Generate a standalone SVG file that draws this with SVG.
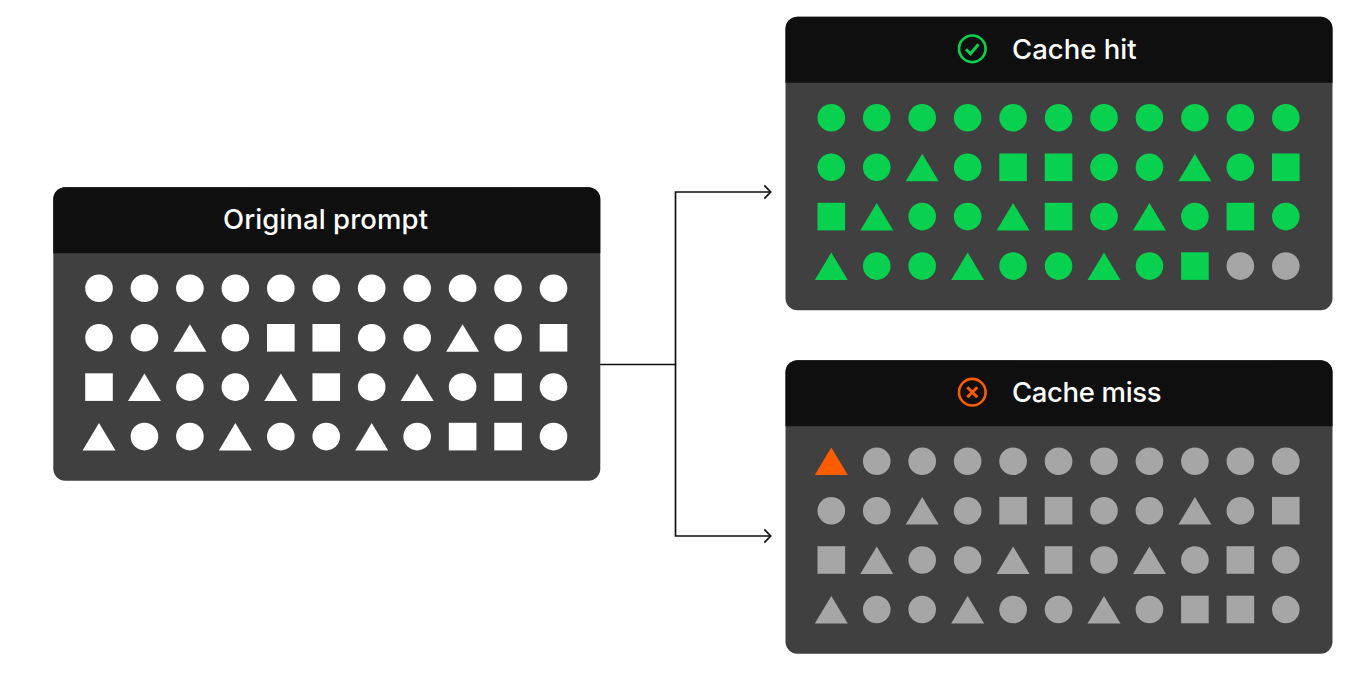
<svg xmlns="http://www.w3.org/2000/svg" width="1358" height="679" viewBox="0 0 1358 679">
<style>
.body{fill:#404040}.head{fill:#0f0f0f}
.t{font-family:"Inter","Liberation Sans",sans-serif;font-size:27.5px;font-weight:500;fill:#fff}
.w{fill:#fff}.g{fill:#07d14f}.a{fill:#a6a6a6}.o{fill:#ff5c00}
.conn{fill:none;stroke:#111;stroke-width:1.7}
</style>
<defs>
<circle id="c" r="13.800"/>
<rect id="s" x="-13.800" y="-13.800" width="27.600" height="27.600"/>
<path id="r" d="M0-13.600L16.500 13.900H-16.500Z"/>
<g id="panel">
<rect class="body" width="547" height="293.500" rx="12"/>
<path class="head" d="M0 66V12A12 12 0 0 1 12 0H535A12 12 0 0 1 547 12V66Z"/>
</g>
<g id="row1"><use href="#c" x="0"/><use href="#c" x="45.450"/><use href="#c" x="90.900"/><use href="#c" x="136.350"/><use href="#c" x="181.800"/><use href="#c" x="227.250"/><use href="#c" x="272.700"/><use href="#c" x="318.150"/><use href="#c" x="363.600"/><use href="#c" x="409.050"/><use href="#c" x="454.500"/></g>
<g id="row2"><use href="#c" x="0"/><use href="#c" x="45.450"/><use href="#r" x="90.900"/><use href="#c" x="136.350"/><use href="#s" x="181.800"/><use href="#s" x="227.250"/><use href="#c" x="272.700"/><use href="#c" x="318.150"/><use href="#r" x="363.600"/><use href="#c" x="409.050"/><use href="#s" x="454.500"/></g>
<g id="row3"><use href="#s" x="0"/><use href="#r" x="45.450"/><use href="#c" x="90.900"/><use href="#c" x="136.350"/><use href="#r" x="181.800"/><use href="#s" x="227.250"/><use href="#c" x="272.700"/><use href="#r" x="318.150"/><use href="#c" x="363.600"/><use href="#s" x="409.050"/><use href="#c" x="454.500"/></g>
<g id="row4head"><use href="#r" x="0"/><use href="#c" x="45.450"/><use href="#c" x="90.900"/><use href="#r" x="136.350"/><use href="#c" x="181.800"/><use href="#c" x="227.250"/><use href="#r" x="272.700"/><use href="#c" x="318.150"/><use href="#s" x="363.600"/></g>
<marker id="arrow" markerUnits="userSpaceOnUse" markerWidth="12" markerHeight="16" refX="9" refY="8" orient="auto"><path d="M2.800 1.400L9.200 8L2.800 14.600" fill="none" stroke="#111" stroke-width="1.700"/></marker>
</defs>
<rect width="1358" height="679" fill="#fff"/>
<g id="connectors">
<path class="conn" d="M600 364.500H675.500V192H770.500" marker-end="url(#arrow)"/>
<path class="conn" d="M675.500 364.500V536H770.500" marker-end="url(#arrow)"/>
</g>
<g id="original-prompt" transform="translate(53.300,187.300)">
<use href="#panel"/>
<text class="t" x="272.200" y="42" text-anchor="middle" textLength="205">Original prompt</text>
<g class="w" transform="translate(45.700,0)">
<use href="#row1" y="101"/><use href="#row2" y="150.500"/><use href="#row3" y="199.800"/><use href="#row4head" y="249.300"/><use href="#s" x="409.050" y="249.300"/><use href="#c" x="454.500" y="249.300"/>
</g>
</g>
<g id="cache-hit" transform="translate(785.500,16.800)">
<use href="#panel"/>
<circle cx="186.800" cy="32" r="13.300" fill="none" stroke="#07d14f" stroke-width="2.600"/>
<path d="M180.500 32.500L185 37L193 27.500" fill="none" stroke="#07d14f" stroke-width="3"/>
<text class="t" x="226.500" y="42">Cache hit</text>
<g class="g" transform="translate(45.800,0)">
<use href="#row1" y="101"/><use href="#row2" y="150.500"/><use href="#row3" y="199.800"/><use href="#row4head" y="249.300"/><use href="#c" class="a" x="409.050" y="249.300"/><use href="#c" class="a" x="454.500" y="249.300"/>
</g>
</g>
<g id="cache-miss" transform="translate(785.500,360.200)">
<use href="#panel"/>
<circle cx="186.800" cy="32" r="13.300" fill="none" stroke="#ff5c00" stroke-width="2.600"/>
<path d="M181.800 27L191.800 37M191.800 27L181.800 37" fill="none" stroke="#ff5c00" stroke-width="3"/>
<text class="t" x="226.500" y="42" textLength="149.500">Cache miss</text>
<g class="a" transform="translate(45.800,0)">
<use href="#row1" y="101"/><use href="#row2" y="150.500"/><use href="#row3" y="199.800"/><use href="#row4head" y="249.300"/><use href="#s" x="409.050" y="249.300"/><use href="#c" x="454.500" y="249.300"/>
<circle cx="0" cy="101" r="15" fill="#404040"/>
<use href="#r" class="o" y="101"/>
</g>
</g>
</svg>
